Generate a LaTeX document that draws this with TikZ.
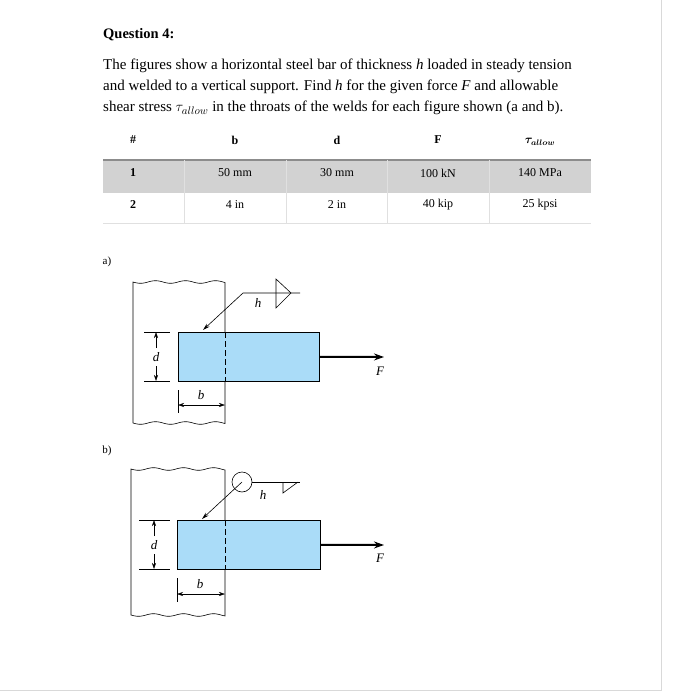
\documentclass[tikz,border=0pt]{standalone}
\usepackage{bm}
\usepackage{fontspec}
\setmainfont{Liberation Serif}
\usetikzlibrary{arrows.meta}
\definecolor{barblue}{RGB}{170,220,248}
\definecolor{tgray}{RGB}{210,210,210}
\begin{document}
\begin{tikzpicture}[x=1pt,y=-1pt,
  thin line/.style={line width=0.6pt},
  dimarr/.style={line width=0.5pt,{Stealth[length=6pt,width=4pt]}-{Stealth[length=6pt,width=4pt]}},
  lead/.style={line width=0.6pt,-{Stealth[length=7pt,width=4pt]}},
  force/.style={line width=2pt,-{Stealth[length=10pt,width=7pt]}},
  lbl/.style={font=\itshape\fontsize{13}{14}\selectfont,inner sep=0pt},
  cell/.style={font=\fontsize{12}{13}\selectfont,inner sep=0pt},
  body/.style={font=\fontsize{15}{17}\selectfont,inner sep=0pt,anchor=west}]
\useasboundingbox (0,0) rectangle (674,700);
\fill[white] (0,0) rectangle (674,700);
\draw[black!15,line width=0.8pt] (661,0) -- (661,690) -- (0,690);
% text
\node[body,font=\bfseries\fontsize{14.5}{17}\selectfont] (q) at (103,35) {Question 4:};
\node[body] (t1) at (103,66) {The figures show a horizontal steel bar of thickness \textit{h} loaded in steady tension};
\node[body] (t2) at (103,87) {and welded to a vertical support. Find \textit{h} for the given force \textit{F} and allowable};
\node[body] (t3) at (103,108) {shear stress $\tau_{allow}$ in the throats of the welds for each figure shown (a and b).};
% table
\fill[tgray] (103,160) rectangle (591,193);
\draw[black!45,line width=1.2pt] (103,160) -- (591,160);
\draw[black!12,line width=1pt] (103,224) -- (591,224);
\foreach \xx in {184,286,387,489}{\draw[black!12,line width=0.6pt] (\xx,160) -- (\xx,224);}
\node[cell,font=\bfseries\fontsize{12}{13}\selectfont] (h1) at (133,140) {\#};
\node[cell,font=\bfseries\fontsize{12}{13}\selectfont] (h2) at (235,140) {b};
\node[cell,font=\bfseries\fontsize{12}{13}\selectfont] (h3) at (337,140) {d};
\node[cell,font=\bfseries\fontsize{12}{13}\selectfont] (h4) at (438,140) {F};
\node[cell] (h5) at (540,142) {$\bm{\tau_{allow}}$};
\node[cell,font=\bfseries\fontsize{12}{13}\selectfont] (a1) at (133,173) {1};
\node[cell] (a2) at (235,173) {50 mm};
\node[cell] (a3) at (337,173) {30 mm};
\node[cell] (a4) at (438,173) {100 kN};
\node[cell] (a5) at (540,173) {140 MPa};
\node[cell,font=\bfseries\fontsize{12}{13}\selectfont] (b1) at (133,205) {2};
\node[cell] (b2) at (235,205) {4 in};
\node[cell] (b3) at (337,205) {2 in};
\node[cell] (b4) at (438,205) {40 kip};
\node[cell] (b5) at (540,205) {25 kpsi};
% ---------- figure a
\node[cell,font=\fontsize{11}{12}\selectfont] (la) at (107,262) {a)};
\draw[thin line] plot[domain=133:225,samples=60] (\x,{282+1.3*sin(12*(\x-133))})
  -- (225,423) -- plot[domain=225:133,samples=60] (\x,{423+1.3*sin(12*(\x-133))}) -- cycle;
\node[draw,thin line,fill=barblue,minimum width=141pt,minimum height=49pt,anchor=north west,inner sep=0pt] (bara) at (178,332) {};
\draw[thin line,dash pattern=on 6pt off 3pt] (225,332) -- (225,381);
\coordinate (ta) at (203,330);
\coordinate (ea) at (243,293);
\coordinate (ra) at (300,293);
\draw[lead] (ra) -- (ea) -- (ta);
\draw[thin line] (276,279) -- (291,293) -- (276,308) -- cycle;
\node[lbl] (ha) at (258,303) {h};
\draw[thin line] (144,332) -- (170,332) (144,381) -- (170,381);
\coordinate (da1) at (156,332); \coordinate (da2) at (156,381);
\draw[dimarr,-{Stealth[length=6pt,width=4pt]}] (156,348) -- (da1);
\draw[dimarr,-{Stealth[length=6pt,width=4pt]}] (156,366) -- (da2);
\node[lbl] (da) at (156,357) {d};
\draw[thin line] (178,390) -- (178,413);
\coordinate (ba1) at (178,405); \coordinate (ba2) at (225,405);
\draw[dimarr] (ba1) -- (ba2);
\node[lbl] (bla) at (201,395) {b};
\coordinate (fa) at (384,357);
\draw[force] (bara.east) -- (fa);
\node[lbl] (Fa) at (380,371) {F};
% ---------- figure b
\node[cell,font=\fontsize{11}{12}\selectfont] (lb) at (107,451) {b)};
\draw[thin line] plot[domain=131:225,samples=60] (\x,{469+1.3*sin(12*(\x-131))})
  -- (225,615) -- plot[domain=225:131,samples=60] (\x,{615+1.3*sin(12*(\x-131))}) -- cycle;
\node[draw,thin line,fill=barblue,minimum width=143pt,minimum height=49pt,anchor=north west,inner sep=0pt] (barb) at (177,520) {};
\draw[thin line,dash pattern=on 6pt off 3pt] (225,520) -- (225,569);
\node[draw,circle,thin line,minimum size=20pt,inner sep=0pt] (cb) at (242,482) {};
\coordinate (rb) at (300,482);
\coordinate (tb) at (202,519);
\draw[thin line] (cb.east) -- (rb);
\draw[lead] (cb.center) -- (tb);
\draw[thin line] (283,482) -- (283,493) -- (298,482);
\node[lbl] (hb) at (263,495) {h};
\draw[thin line] (139,520) -- (170,520) (139,569) -- (170,569);
\coordinate (db1) at (154,520); \coordinate (db2) at (154,569);
\draw[dimarr,-{Stealth[length=6pt,width=4pt]}] (154,536) -- (db1);
\draw[dimarr,-{Stealth[length=6pt,width=4pt]}] (154,554) -- (db2);
\node[lbl] (db) at (154,545) {d};
\draw[thin line] (177,578) -- (177,602);
\coordinate (bb1) at (177,594); \coordinate (bb2) at (225,594);
\draw[dimarr] (bb1) -- (bb2);
\node[lbl] (blb) at (200,584) {b};
\coordinate (fb) at (384,545);
\draw[force] (barb.east) -- (fb);
\node[lbl] (Fb) at (380,558) {F};
\end{tikzpicture}
\end{document}
